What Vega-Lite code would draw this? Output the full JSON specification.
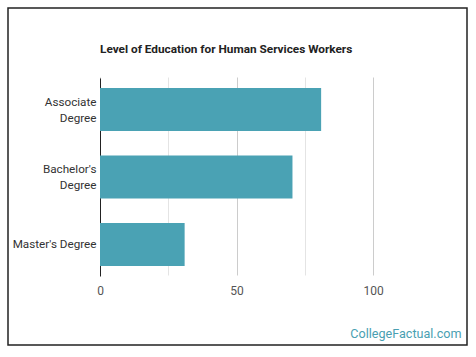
{
  "$schema": "https://vega.github.io/schema/vega-lite/v6.json",
  "autosize": {"type": "none"},
  "padding": {"left": 8, "top": 8, "right": 9, "bottom": 12},
  "width": 459,
  "height": 337,
  "background": "white",
  "config": {
    "view": {"stroke": "#222222", "strokeWidth": 1.5},
    "font": "Roboto"
  },
  "title": {
    "text": "Level of Education for Human Services Workers",
    "anchor": "start",
    "frame": "group",
    "dx": 92,
    "offset": -57,
    "baseline": "alphabetic",
    "font": "Roboto",
    "fontSize": 11.8,
    "fontWeight": "bold",
    "color": "#222222"
  },
  "data": {
    "values": [
      {"level": "Associate Degree", "value": 81},
      {"level": "Bachelor's Degree", "value": 70.5},
      {"level": "Master's Degree", "value": 31}
    ]
  },
  "mark": {"type": "bar", "color": "#4aa2b4"},
  "encoding": {
    "y": {
      "field": "level",
      "type": "nominal",
      "sort": null,
      "scale": {"range": [70, 268], "paddingInner": 0.363, "paddingOuter": 0.15},
      "axis": {
        "title": null,
        "offset": -92,
        "domainColor": "#222222",
        "domainWidth": 1,
        "ticks": false,
        "labelPadding": 4,
        "labelFontSize": 11.7,
        "labelColor": "#333333",
        "labelLineHeight": 16,
        "labelLimit": 200,
        "labelOffset": {"condition": {"test": "datum.value === \"Master's Degree\"", "value": 0}, "value": -8},
        "labelExpr": "datum.label === \"Master's Degree\" ? datum.label : split(datum.label, ' ')"
      }
    },
    "x": {
      "field": "value",
      "type": "quantitative",
      "scale": {"domain": [0, 100], "range": [92, 365], "nice": false},
      "axis": {
        "offset": -69,
        "values": [0, 25, 50, 75, 100],
        "labelExpr": "datum.value % 50 === 0 ? datum.label : ''",
        "labelFlush": false,
        "domain": false,
        "ticks": false,
        "labelPadding": 9,
        "labelFontSize": 12,
        "labelColor": "#555555",
        "gridColor": {"condition": {"test": "datum.value % 50 === 0", "value": "#cccccc"}, "value": "#e4e4e4"},
        "title": "CollegeFactual.com",
        "titleAnchor": "end",
        "titleFont": "Roboto",
        "titleFontWeight": "normal",
        "titleFontSize": 12.6,
        "titleColor": "#4a9fb2",
        "titleAlign": "right",
        "titleX": 453,
        "titleY": 61,
        "titleBaseline": "alphabetic"
      }
    }
  }
}
